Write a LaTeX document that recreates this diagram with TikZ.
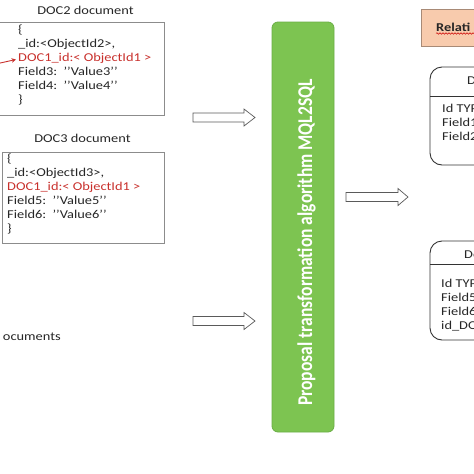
\documentclass[tikz,border=0pt]{standalone}
\usepackage{fontspec}
\setmainfont{Carlito}[FakeStretch=1.2]
\newfontfamily\gfont{Carlito}
\usetikzlibrary{arrows.meta,decorations.pathmorphing}
\definecolor{docred}{HTML}{C8302C}
\definecolor{doctext}{HTML}{262626}
\definecolor{boxgray}{HTML}{8C8C8C}
\definecolor{barfill}{HTML}{7DC451}
\definecolor{barline}{HTML}{6AAE45}
\definecolor{relfill}{HTML}{F8CBAD}
\definecolor{relline}{HTML}{A88A76}
\definecolor{arrline}{HTML}{5A5A5A}
\tikzset{
  docbox/.style={draw=boxgray, line width=0.8pt, inner sep=0pt},
  doctxt/.style={inner sep=0pt, align=left, text=doctext, font=\fontsize{12}{14}\selectfont},
  ttl/.style={inner sep=0pt, text=doctext, font=\fontsize{12}{14}\selectfont},
  tbl/.style={draw=black!80, line width=0.9pt, rounded corners=12pt},
  blockarr/.style={draw=arrline, fill=white, line width=0.7pt, line join=miter},
}
\newcommand{\blockarrow}[4]{% x1, x2 (tip), y, headlen
  \draw[blockarr] (#1,#3-4.5) -- (#2-#4,#3-4.5) -- (#2-#4,#3-8.5) -- (#2,#3)
     -- (#2-#4,#3+8.5) -- (#2-#4,#3+4.5) -- (#1,#3+4.5) -- cycle;}
\begin{document}
\begin{tikzpicture}[x=1pt,y=-1pt]
\useasboundingbox (0,0) rectangle (474,474);
\clip (0,0) rectangle (474,474);

% DOC2
\node[ttl] (t2) at (85.5,10) {DOC2 document};
\node[docbox, minimum width=169pt, minimum height=93pt] (doc2) at (79.5,68.5) {};
\node[doctxt, anchor=west] (d2txt) at (18,65) {\{\\
\_id:<ObjectId2>,\\
{\color{docred}DOC1\_id:< ObjectId1 >}\\
Field3:\, ’’Value3’’\\
Field4:\, ’’Value4’’\\
\}};
\coordinate (redtail) at (-2,63.5);
\coordinate (redtip) at (16,59.5);
\draw[docred, line width=0.9pt, -{Stealth[length=4.5pt,width=4.5pt]}] (redtail) -- (redtip);

% DOC3
\node[ttl] (t3) at (82.5,138) {DOC3 document};
\node[docbox, minimum width=162pt, minimum height=91pt] (doc3) at (83,197.5) {};
\node[doctxt, anchor=west] (d3txt) at (7,193.5) {\{\\
\_id:<ObjectId3>,\\
{\color{docred}DOC1\_id:< ObjectId1 >}\\
Field5:\, ’’Value5’’\\
Field6:\, ’’Value6’’\\
\}};

\node[ttl, anchor=east] (docs) at (61,337) {ocuments};

% block arrows
\blockarrow{193}{255}{117.5}{11}
\blockarrow{193}{255}{321}{11}
\blockarrow{346}{408}{197}{10}

% green bar
\node[draw=barline, fill=barfill, line width=0.8pt, rounded corners=6pt,
      minimum width=62pt, minimum height=410pt, inner sep=0pt] (bar) at (303,227) {};
\node[inner sep=0pt, text=white] (bartxt) at (306.5,242.5)
  {\rotatebox{90}{\scalebox{1}[1.2]{\gfont\bfseries\fontsize{17.5}{20}\selectfont Proposal transformation algorithm MQL2SQL}}};

% Relational header
\node[draw=relline, fill=relfill, line width=0.8pt, minimum width=70pt, minimum height=37pt,
      anchor=north west, inner sep=0pt] (rel) at (421,8.5) {};
\node[inner sep=0pt, anchor=west, text=doctext, font=\bfseries\fontsize{12}{14}\selectfont] (reltxt) at (436,27) {Relati};
\draw[red!80!black, line width=0.5pt, decorate, decoration={snake, amplitude=0.8pt, segment length=3pt}] (436,33.5) -- (474,33.5);

% Table 1
\draw[tbl] (490,67) -- (430,67) -- (430,165) -- (490,165);
\draw[black!80, line width=0.9pt] (430,96) -- (490,96);
\node[ttl, anchor=west] (h1) at (467,81) {D};
\node[doctxt, anchor=west] (r1) at (442,122.5) {Id TYP\\Field1\\Field2};

% Table 2
\draw[tbl] (490,241) -- (430,241) -- (430,340) -- (490,340);
\draw[black!80, line width=0.9pt] (430,264) -- (490,264);
\node[ttl, anchor=west] (h2) at (464,255) {Do};
\node[doctxt, anchor=west] (r2) at (441,305) {Id TYP\\Field5\\Field6\\id\_DO};
\end{tikzpicture}
\end{document}
